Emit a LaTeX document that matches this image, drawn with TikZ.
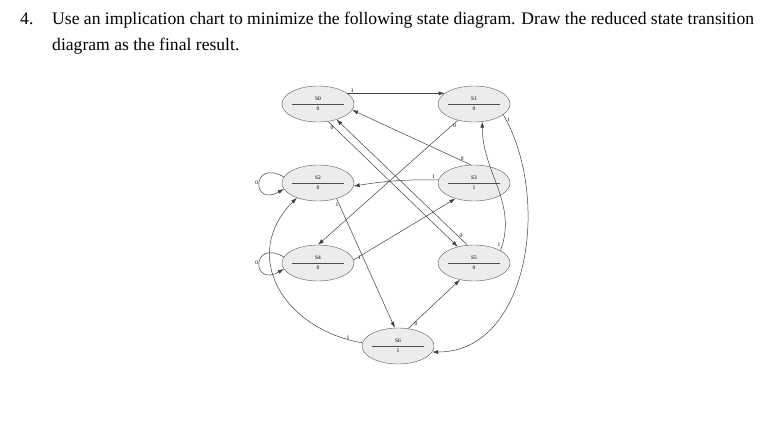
\documentclass[tikz,border=0pt]{standalone}
\usepackage{fontspec}
\setmainfont{Liberation Serif}
\usetikzlibrary{shapes.geometric,arrows.meta}
\begin{document}
\begin{tikzpicture}[x=1pt,y=-1pt,
  st/.style={ellipse,draw=gray!70!black,fill=gray!15,minimum width=72pt,minimum height=36pt,inner sep=0pt},
  tr/.style={draw=gray!50!black,line width=0.5pt,-{Latex[length=6pt,width=4pt]}},
  lb/.style={font=\fontsize{5.5}{5.5}\selectfont,inner sep=1pt},
  tx/.style={font=\fontsize{17.6}{17.6}\selectfont,anchor=base west,inner sep=0pt}]
\useasboundingbox (0,0) rectangle (784,444);
\node[tx] (t1) at (20,25) {4.};
\node[tx] (t2) at (52,25) {Use an implication chart to minimize the following state diagram. Draw the reduced state transition};
\node[tx] (t3) at (52,51) {diagram as the final result.};
\foreach \n/\x/\y/\o in {S0/318/104/0,S1/474/104/0,S2/318/183/0,S3/474/183/1,S4/318/263/0,S5/474/263/0,S6/398/346/1}{
  \node[st] (\n) at (\x,\y) {};
  \draw[gray!60!black,line width=0.6pt] ([xshift=-26pt]\n.center) -- ([xshift=26pt]\n.center);
  \node[lb] (\n-a) at ([yshift=5pt]\n.center) {\n};
  \node[lb] (\n-b) at ([yshift=-5pt]\n.center) {\o};
}
% transitions
\draw[tr] (S0.20) -- node[lb,above,pos=0.05]{1} (S1.160);
\draw[tr] (S0.-60) -- node[lb,pos=0.05,left]{0} (S5.135);
\draw[tr] (S1.-135) -- node[lb,pos=0.04,right]{0} (S4.90);
\draw[tr] (S1.-20) to[out=-60,in=0] node[lb,pos=0.02,right]{1} (S6.-10);
\draw[tr] (S2.-40) -- node[lb,pos=0.05,left]{1} (S6.100);
\draw[tr] (S3.100) -- node[lb,pos=0.05,above left]{0} (S0.-10);
\draw[tr] (S3.175) to[bend right=5] node[lb,pos=0.05,above]{1} (S2.-5);
\draw[tr] (S4.5) -- node[lb,pos=0.03,right]{1} (S3.-140);
\draw[tr] (S5.110) -- node[lb,pos=0.05,above]{0} (S0.-40);
\draw[tr] (S5.25) to[out=70,in=-90] node[lb,pos=0.02,above left]{1} (S1.-65);
\draw[tr] (S6.60) -- node[lb,pos=0.1,right]{0} (S5.-130);
\draw[tr] (S6.175) to[out=170,in=-135,looseness=1.3] node[lb,pos=0.05,above left]{1} (S2.-145);
\draw[tr] (S2.170) to[out=150,in=-150,looseness=8] node[lb,left]{0} (S2.190);
\draw[tr] (S4.170) to[out=150,in=-150,looseness=8] node[lb,left]{0} (S4.190);
\end{tikzpicture}
\end{document}
